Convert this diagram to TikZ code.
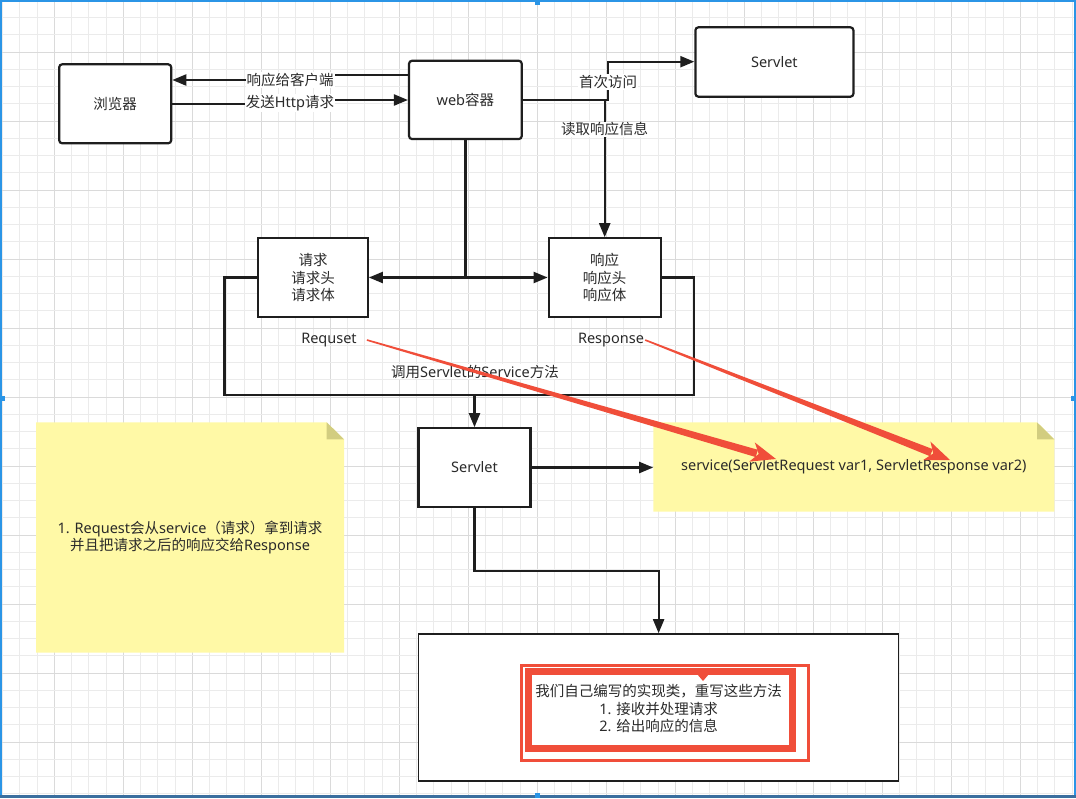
\documentclass[tikz,border=0pt]{standalone}
\usepackage{fontspec}
\setmainfont{Noto Sans CJK SC}
\newfontfamily\latfont{Noto Sans}
\newcommand\LT[1]{{\latfont #1}}
\usetikzlibrary{arrows.meta,calc}
\definecolor{ink}{HTML}{1E1E1E}
\definecolor{txt}{HTML}{2A2A2A}
\definecolor{hlred}{RGB}{240,78,58}
\definecolor{noteY}{HTML}{FFF9A6}
\definecolor{noteF}{HTML}{D2CD80}
\definecolor{gridmin}{HTML}{EBEBEB}
\definecolor{gridmaj}{HTML}{DADADA}
\definecolor{frameblue}{HTML}{2B95E6}
\definecolor{framedark}{HTML}{3B6F9F}
\newcommand\taperarrow[2]{%
  \path ($(#2)!20pt!(#1)$) coordinate (tA) ($(#2)!25pt!(#1)$) coordinate (tB) ($(#2)!18pt!(#1)$) coordinate (tN);
  \fill[hlred] ($(#1)!0.8pt!90:(#2)$) -- ($(#1)!0.8pt!-90:(#2)$) -- ($(tA)!3.8pt!90:(#1)$) -- ($(tA)!3.8pt!-90:(#1)$) -- cycle;
  \fill[hlred] (#2) -- ($(tB)!10pt!90:(#1)$) -- (tN) -- ($(tB)!10pt!-90:(#1)$) -- cycle;
}
\begin{document}
\begin{tikzpicture}[x=1pt,y=-1pt,
  lbl/.style={text=txt,font=\fontsize{14.5}{17.5}\selectfont,inner sep=1pt,align=center},
  wlbl/.style={lbl,fill=white},
  box/.style={draw=ink,line width=2.2pt,fill=white,lbl,inner sep=0pt},
  rbox/.style={box,rounded corners=3pt},
  conn/.style={draw=ink,line width=2.2pt,-{Triangle[length=14pt,width=11pt]}},
  wire/.style={draw=ink,line width=2.2pt},
]
\useasboundingbox (0,0) rectangle (1076,798);
\fill[white] (0,0) rectangle (1076,798);
% grid
\foreach \k in {0,...,62} {
  \pgfmathsetmacro\xx{2.55+17.25*\k}
  \pgfmathtruncatemacro\mm{mod(\k,4)}
  \ifnum\mm=3 \draw[gridmaj,line width=0.9pt] (\xx,0) -- (\xx,798);
  \else \draw[gridmin,line width=0.8pt] (\xx,0) -- (\xx,798); \fi
}
\foreach \k in {0,...,46} {
  \pgfmathsetmacro\yy{0.25+17.25*\k}
  \pgfmathtruncatemacro\mm{mod(\k,4)}
  \ifnum\mm=3 \draw[gridmaj,line width=0.9pt] (0,\yy) -- (1076,\yy);
  \else \draw[gridmin,line width=0.8pt] (0,\yy) -- (1076,\yy); \fi
}
% frame
\draw[frameblue,line width=2pt] (0,1) -- (1076,1);
\draw[frameblue,line width=2pt] (1,0) -- (1,798);
\draw[frameblue,line width=2pt] (1075,0) -- (1075,798);
\draw[framedark,line width=3pt] (0,796.5) -- (1076,796.5);
\foreach \p in {(537,2),(2,398),(1073,398),(537,795)} \fill[frameblue] \p ++(-2.5,-2.5) rectangle ++(5,5);

% notes
\fill[noteY] (36,422.3) -- (326.7,422.3) -- (344,439.3) -- (344,652.7) -- (36,652.7) -- cycle;
\fill[noteF] (326.7,422.3) -- (344,439.3) -- (326.7,439.3) -- cycle;
\fill[noteY] (653.4,422.3) -- (1037,422.3) -- (1054.3,439.3) -- (1054.3,511.7) -- (653.4,511.7) -- cycle;
\fill[noteF] (1037,422.3) -- (1054.3,439.3) -- (1037,439.3) -- cycle;
\node[lbl,minimum width=308pt,minimum height=230pt] (note1) at (190,537.5) {\LT{1. Request}会从\LT{service}（请求）拿到请求\\并且把请求之后的响应交给\LT{Response}};
\node[lbl,minimum width=400.9pt,minimum height=89.4pt,inner sep=0pt] (note2) at (853.85,467) {\LT{service(ServletRequest var1, ServletResponse var2)}};

% boxes
\node[rbox,minimum width=112pt,minimum height=79pt] (browser) at (115.2,103.8) {浏览器};
\node[rbox,minimum width=112.7pt,minimum height=78.3pt] (web) at (465.4,99.9) {\LT{web}容器};
\node[rbox,minimum width=158pt,minimum height=69.4pt] (sv1) at (774.4,62) {\LT{Servlet}};
\node[box,minimum width=109.5pt,minimum height=78.4pt] (req) at (313,277.5) {请求\\请求头\\请求体};
\node[box,minimum width=112pt,minimum height=78.4pt] (resp) at (604.7,277.5) {响应\\响应头\\响应体};
\node[box,minimum width=112pt,minimum height=78.4pt] (sv2) at (474.5,467.5) {\LT{Servlet}};
\node[box,line width=1.6pt,minimum width=480pt,minimum height=147pt] (big) at (658.6,707.5) {};

% connectors
\coordinate (j1) at (330,75); \coordinate (j2) at (330,80);
\draw[conn] (web.west |- j1) -- (j1) -- (j2) -- (browser.east |- j2);
\node[wlbl] (l1) at (290,80) {响应给客户端};
\coordinate (j3) at (330,104); \coordinate (j4) at (330,100);
\draw[conn] (browser.east |- j3) -- (j3) -- (j4) -- (web.west |- j4);
\node[wlbl] (l2) at (290,103) {发送\LT{Http}请求};
\coordinate (j5) at (608,100); \coordinate (j6) at (608,61.7);
\draw[conn] (web.east |- j5) -- (j5) -- (j6) -- (sv1.west |- j6);
\node[wlbl] (l3) at (608,82) {首次访问};
\draw[conn] (resp.north |- j5) -- (resp.north);
\node[wlbl] (l4) at (604.7,129.3) {读取响应信息};
\coordinate (hub) at (web.south |- req.east);
\draw[wire] (web.south) -- (hub);
\draw[conn] (hub) -- (req.east);
\draw[conn] (hub) -- (resp.west);
\coordinate (lbl) at (224.5,395); \coordinate (lbr) at (694,395);
\draw[wire] (req.west) -| (lbl) -- (lbr) |- (resp.east);
\draw[conn] (sv2.north |- lbl) -- (sv2.north);
\node[wlbl] (calllbl) at (475,371.7) {调用\LT{Servlet}的\LT{Service}方法};
\draw[conn] (sv2.east) -- (note2.west |- sv2.east);
\coordinate (k1) at (474.5,570.7);
\draw[conn] (sv2.south) -- (k1) -| (big.north);
\node[lbl] (reqlbl) at (329,340) {\LT{Requset}};
\node[lbl] (resplbl) at (611,340) {\LT{Response}};

% highlight
\draw[hlred,line width=3pt] (521.5,665.5) rectangle (808.5,760);
\draw[hlred,line width=6.7pt] (528.5,671.5) rectangle (792.5,748.5);
\fill[hlred] (697,674) -- (709,674) -- (703,681) -- cycle;
\node[lbl] (impl) at (658.6,708.5) {我们自己编写的实现类，重写这些方法\\\LT{1. }接收并处理请求\\\LT{2. }给出响应的信息};

% red arrows
\coordinate (tip1) at (776,459);
\coordinate (tip2) at (950,460);
\coordinate (st1) at ([xshift=9pt]reqlbl.east);
\taperarrow{st1}{tip1}
\taperarrow{resplbl.east}{tip2}
\end{tikzpicture}
\end{document}
